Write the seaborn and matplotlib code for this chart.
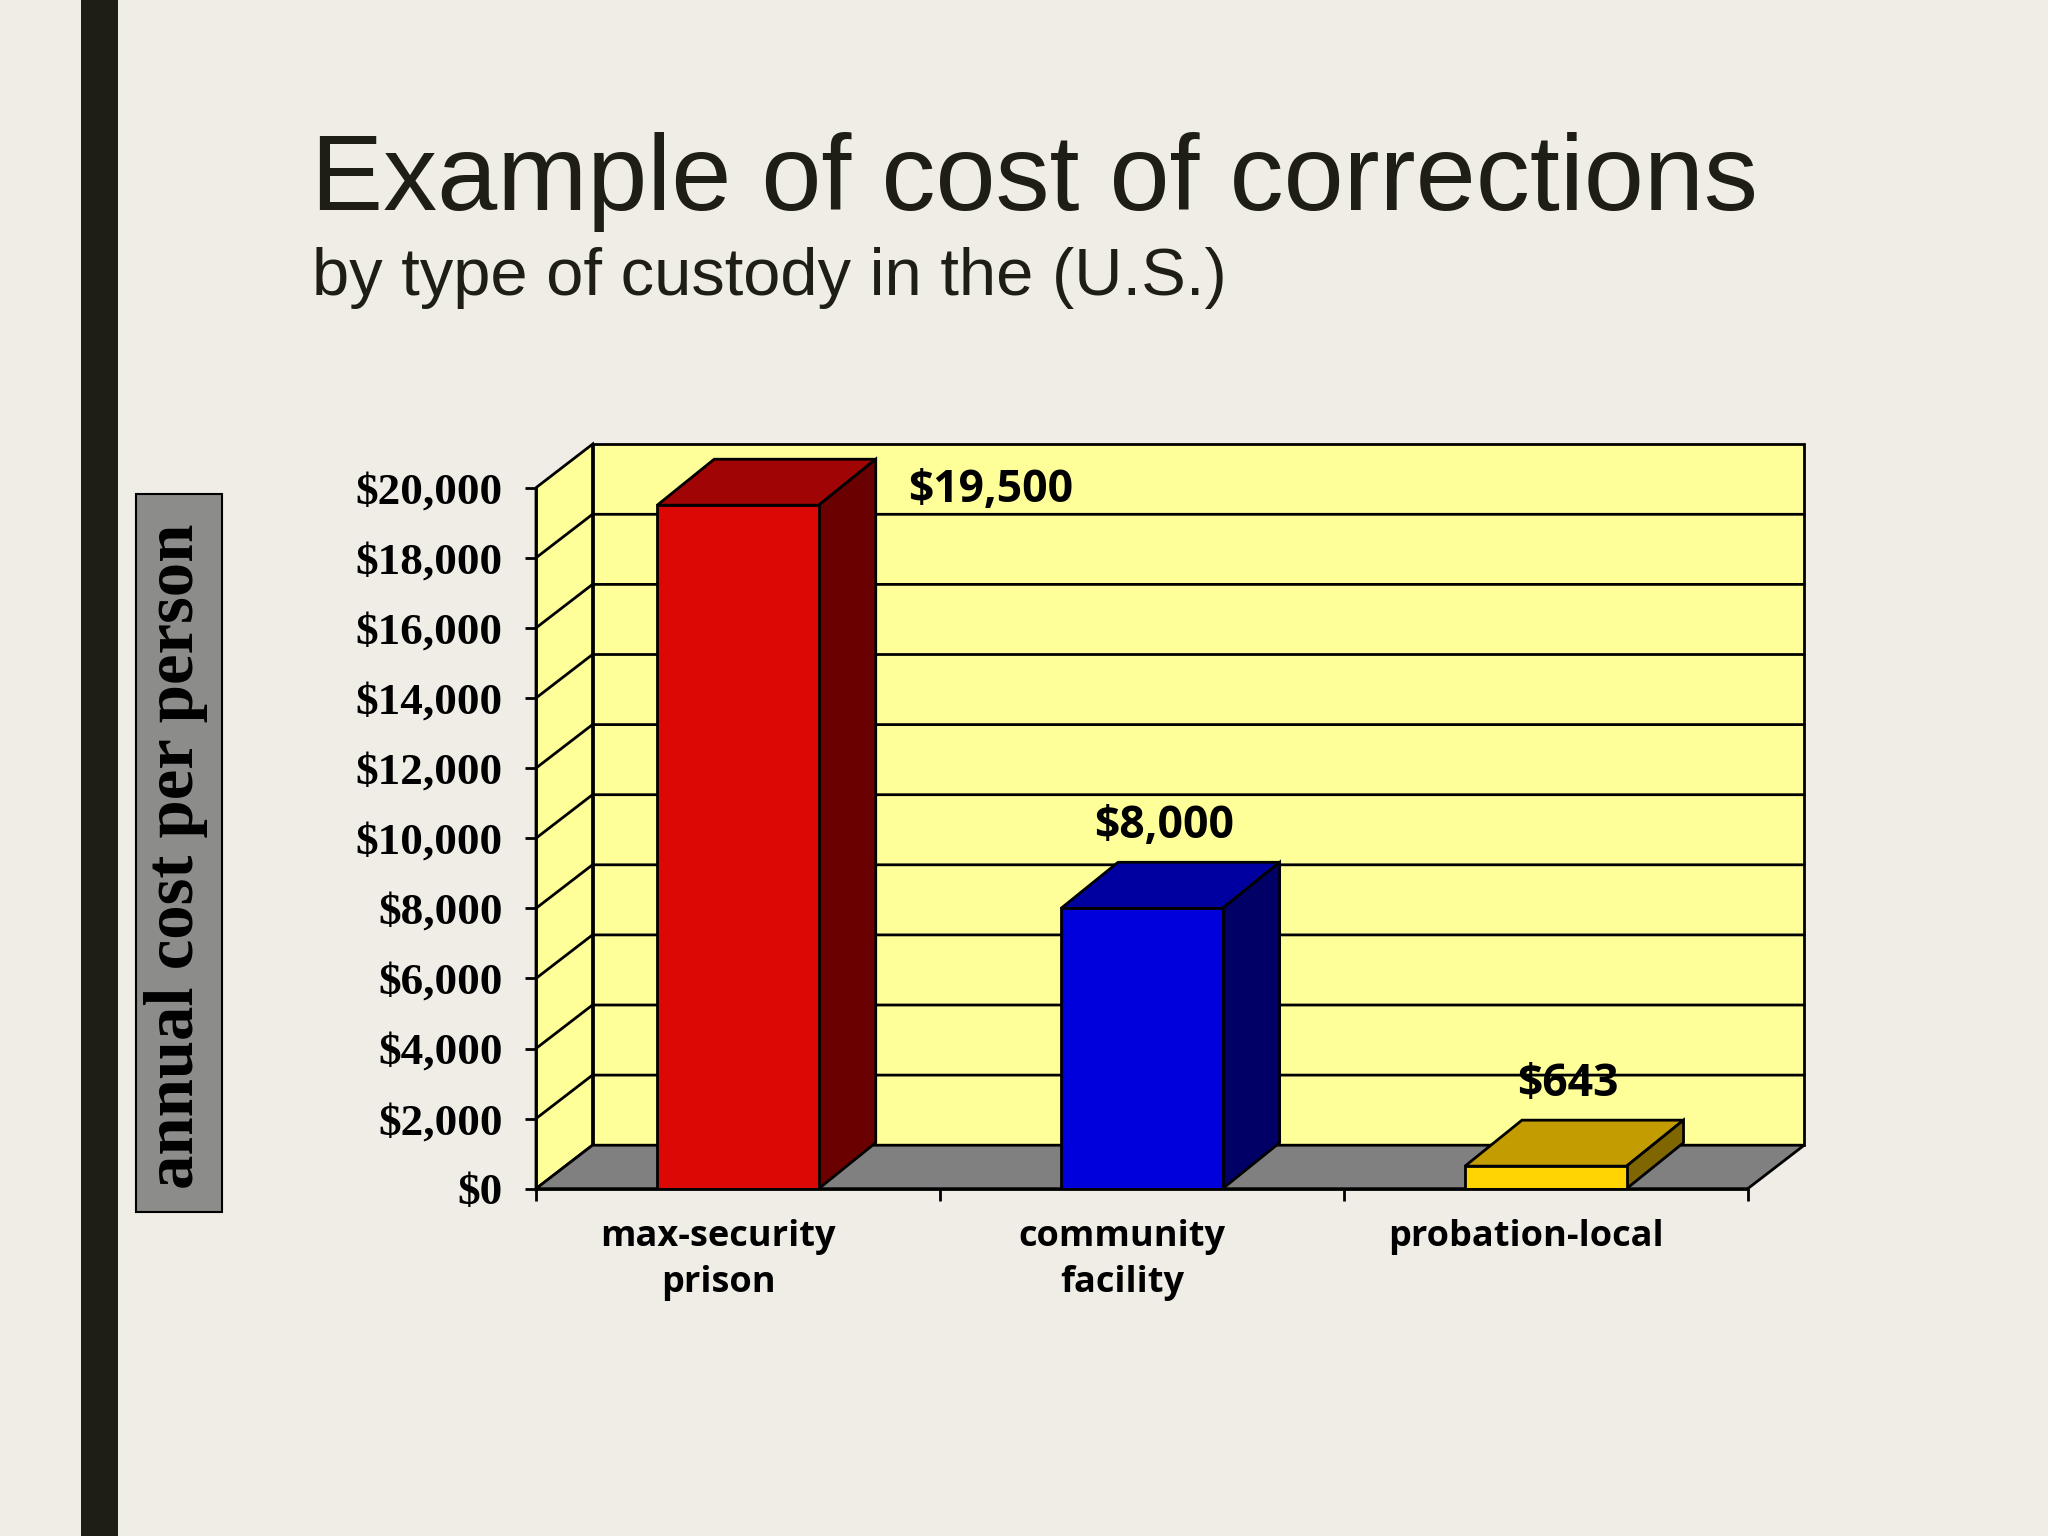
import matplotlib
matplotlib.use("Agg")
import matplotlib.pyplot as plt
from matplotlib.patches import Polygon, Rectangle
from matplotlib.ticker import FuncFormatter
from matplotlib.transforms import ScaledTranslation
import seaborn as sns
import pandas as pd

# ---- data ----
categories = ["max-security\nprison", "community\nfacility", "probation-local"]
values = [19500, 8000, 643]
value_labels = ["$19,500", "$8,000", "$643"]
y_ticks = [0, 2000, 4000, 6000, 8000, 10000, 12000, 14000, 16000, 18000, 20000]

front_colors = ["#DC0806", "#0000DC", "#FFD400"]
top_colors = ["#A10404", "#0000A0", "#C29C00"]
side_colors = ["#6B0000", "#000066", "#806600"]

title = "Example of cost of corrections"
subtitle = "by type of custody in the (U.S.)"
ylabel = "annual cost per person"

BG = "#F0EDE6"
INK = "#1E1E14"

sns.set_theme(style="white")
plt.rcParams["font.family"] = ["Liberation Sans", "DejaVu Sans"]

W, H, DPI = 2048, 1536, 100
fig = plt.figure(figsize=(W / DPI, H / DPI), dpi=DPI, facecolor=BG)

# front-plane geometry (pixels)
x_front_left = 536.0
px_per_cat = 403.9
y_zero_from_bottom = H - 1188.7
px_per_val = 701.0 / 20000
xlim = (-0.5, 2.7)
ylim = (0, 21500)
ax = fig.add_axes([x_front_left / W, y_zero_from_bottom / H,
                   (xlim[1] - xlim[0]) * px_per_cat / W,
                   (ylim[1] - ylim[0]) * px_per_val / H])
ax.set_facecolor("none")
ax.set_xlim(*xlim)
ax.set_ylim(*ylim)

# depth offsets (data units)
dxw, dyw = 56.5 / px_per_cat, 43.5 / px_per_val
dxb, dyb = 57.0 / px_per_cat, 46.0 / px_per_val
lw = 2.0
x0, x1 = -0.5, len(categories) - 0.5
ytop = y_ticks[-1]

# walls and floor
ax.add_patch(Polygon([(x0 + dxw, dyw), (x1 + dxw, dyw), (x1 + dxw, ytop + dyw), (x0 + dxw, ytop + dyw)],
                     closed=True, facecolor="#FFFF99", edgecolor="black", lw=lw, zorder=0.5, clip_on=False))
ax.add_patch(Polygon([(x0, 0), (x0 + dxw, dyw), (x0 + dxw, ytop + dyw), (x0, ytop)],
                     closed=True, facecolor="#FFFF99", edgecolor="black", lw=lw, zorder=0.5, clip_on=False))
ax.add_patch(Polygon([(x0, 0), (x1, 0), (x1 + dxw, dyw), (x0 + dxw, dyw)],
                     closed=True, facecolor="#808080", edgecolor="black", lw=lw, zorder=0.6, clip_on=False))
for yv in y_ticks[1:-1]:
    ax.plot([x0, x0 + dxw, x1 + dxw], [yv, yv + dyw, yv + dyw], color="black", lw=lw, zorder=0.7,
            solid_joinstyle="miter", clip_on=False)

# bars (front faces) via seaborn
df = pd.DataFrame({"category": categories, "value": values})
sns.barplot(data=df, x="category", y="value", hue="category", palette=front_colors, legend=False,
            width=0.4, edgecolor="black", linewidth=lw, saturation=1, ax=ax, zorder=3)
ax.set_xlim(*xlim)
ax.set_ylim(*ylim)

bars = [p for p in ax.patches if isinstance(p, Rectangle) and p.get_height() > 0]
bars.sort(key=lambda p: p.get_x())
for i, p in enumerate(bars):
    bx, bw, bh = p.get_x(), p.get_width(), p.get_height()
    top = [(bx, bh), (bx + bw, bh), (bx + bw + dxb, bh + dyb), (bx + dxb, bh + dyb)]
    side = [(bx + bw, 0), (bx + bw + dxb, dyb), (bx + bw + dxb, bh + dyb), (bx + bw, bh)]
    ax.add_patch(Polygon(top, closed=True, facecolor=top_colors[i], edgecolor="black", lw=lw, zorder=2.5))
    ax.add_patch(Polygon(side, closed=True, facecolor=side_colors[i], edgecolor="black", lw=lw, zorder=2.5))
    cx = bx + bw / 2
    if bh / ytop > 0.9:
        off = (253, 15)
    else:
        off = (22, 82)
    ax.annotate(value_labels[i], (cx, bh), xytext=off, textcoords="offset pixels",
                ha="center", va="center", fontsize=32, fontweight="bold",
                family=["Open Sans", "DejaVu Sans"], color="black", zorder=5)

# front axis lines
ax.plot([x0, x0], [0, ytop], color="black", lw=lw, zorder=4, clip_on=False)
ax.plot([x0, x1], [0, 0], color="black", lw=lw, zorder=4, clip_on=False)
for s in ax.spines.values():
    s.set_visible(False)

# y ticks
ax.set_yticks(y_ticks)
ax.yaxis.set_major_formatter(FuncFormatter(lambda v, _: f"${int(v):,}"))
ax.tick_params(axis="y", which="major", direction="out", length=8, width=lw, color="black",
               pad=16, left=True, labelsize=32.5, labelcolor="black")
for t in ax.get_yticklabels():
    t.set_fontfamily(["Liberation Serif", "DejaVu Serif"])
    t.set_fontweight("bold")

# x ticks
ax.set_xticks(range(len(categories)))
ax.set_xticklabels(categories)
ax.set_xticks([x0 + k for k in range(len(categories) + 1)], minor=True)
ax.tick_params(axis="x", which="major", length=0, pad=22, labelsize=26, labelcolor="black", bottom=True)
ax.tick_params(axis="x", which="minor", direction="out", length=8.5, width=lw, color="black", bottom=True)
shift = ScaledTranslation(-20 / DPI, 0, fig.dpi_scale_trans)
for t in ax.get_xticklabels():
    t.set_fontfamily(["Open Sans", "DejaVu Sans"])
    t.set_fontweight("bold")
    t.set_linespacing(1.35)
    t.set_transform(t.get_transform() + shift)
ax.set_xlabel("")
ax.set_ylabel("")

# y label box
fig.patches.append(Rectangle((136 / W, 1 - 1212 / H), 86 / W, (1212 - 494) / H, transform=fig.transFigure,
                             facecolor="#8C8C8A", edgecolor="black", lw=1.5, zorder=1))
fig.text(176 / W, 1 - 856 / H, ylabel, rotation=90, ha="center", va="center", fontsize=49.5,
         fontweight="bold", family=["Liberation Serif", "DejaVu Serif"], color="black", zorder=2)

# left decorative bar
fig.patches.append(Rectangle((81 / W, 0), 37 / W, 1, transform=fig.transFigure,
                             facecolor=INK, edgecolor="none", zorder=1))

# titles
fig.text(311 / W, 1 - 210 / H, title, ha="left", va="baseline", fontsize=77.8, color=INK,
         family=["Liberation Sans", "DejaVu Sans"])
fig.text(312 / W, 1 - 295 / H, subtitle, ha="left", va="baseline", fontsize=48.2, color=INK,
         family=["Liberation Sans", "DejaVu Sans"])

fig.savefig("out.png", dpi=DPI, facecolor=BG)
